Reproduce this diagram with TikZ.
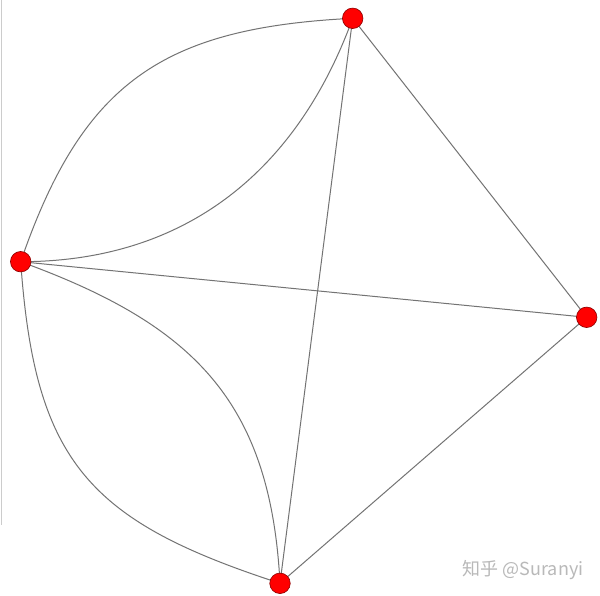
\documentclass[tikz,border=0pt]{standalone}
\usepackage{fontspec}
\newfontfamily\cjk{Noto Sans CJK SC}
\begin{document}
\begin{tikzpicture}[x=1pt,y=-1pt,
  vert/.style={circle,fill=red,draw=red!55!black,line width=0.6pt,minimum size=20.5pt,inner sep=0pt},
  edge/.style={draw=gray!90!black,line width=1pt},
  wm/.style={text=gray!55,font=\cjk\fontsize{18}{20}\selectfont}]
\useasboundingbox[fill=white] (0,0) rectangle (600,596);
\draw[gray!40,line width=0.8pt] (1,0) -- (1,525);
\coordinate (L) at (20.7,261.7);
\coordinate (T) at (352.7,18.3);
\coordinate (R) at (586.7,317.3);
\coordinate (B) at (280,583.3);
% straight edges
\draw[edge] (T) -- (B);
\draw[edge] (T) -- (R);
\draw[edge] (L) -- (R);
\draw[edge] (B) -- (R);
% curved edges
\draw[edge] (L) .. controls (82.6,81.9) and (162.9,27.8) .. (T);
\draw[edge] (L) .. controls (188,261.7) and (298,168.5) .. (T);
\draw[edge] (L) .. controls (34.8,462.3) and (88.8,521.2) .. (B);
\draw[edge] (L) .. controls (192.7,324.3) and (270.5,400.5) .. (B);
% vertices
\node[vert] (nL) at (L) {};
\node[vert] (nT) at (T) {};
\node[vert] (nR) at (R) {};
\node[vert] (nB) at (B) {};
\node[wm,anchor=center] (wmk) at (523,570) {知乎 @Suranyi};
\end{tikzpicture}
\end{document}
